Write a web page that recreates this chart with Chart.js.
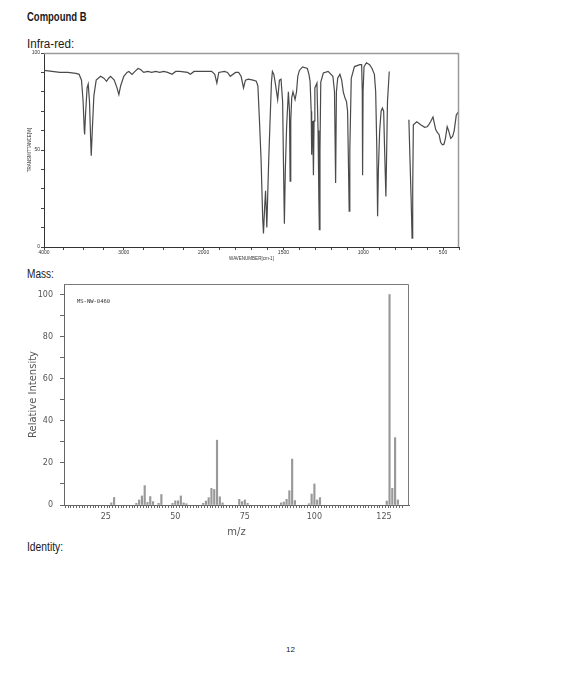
<!DOCTYPE html>
<html>
<head>
<meta charset="utf-8">
<script src="https://cdn.jsdelivr.net/npm/chart.js@4/dist/chart.umd.min.js"></script>
<style>
  html, body { margin:0; padding:0; background:#fff; }
  body { width:568px; height:700px; position:relative; overflow:hidden; }
  .t { position:absolute; color:#1a1a1a; font-family:"Liberation Sans",Arial,sans-serif; font-size:12px; line-height:1; white-space:nowrap; transform-origin:0 0; }
  .box { position:absolute; }
  #msid { position:absolute; left:77px; top:299px; font-family:"DejaVu Sans Mono",monospace; font-size:5.5px; color:#333; line-height:1; }
</style>
</head>
<body>
<div class="t" style="left:27px;top:11px;font-weight:bold;transform:scaleX(0.79);">Compound B</div>
<div class="t" style="left:27px;top:38px;transform:scaleX(0.97);">Infra-red:</div>
<div class="t" style="left:27px;top:268px;transform:scaleX(0.84);">Mass:</div>
<div class="t" style="left:27px;top:541px;transform:scaleX(0.86);">Identity:</div>
<div class="t" style="left:286px;top:646px;font-size:8px;color:#222;">12</div>

<div class="box" style="left:20px;top:40px;width:450px;height:230px;"><canvas id="ir"></canvas></div>
<div class="box" style="left:20px;top:270px;width:400px;height:275px;"><canvas id="ms"></canvas></div>
<div id="msid">MS-NW-0460</div>

<script>
// ---------- IR spectrum data (wavenumber cm-1, %T) ----------
const irWavenumber = [4000,3900,3800,3700,3600,3560,3530,3510,3495,3491,3480,3460,3446,3430,3415,3408,3395,3375,3346,3291,3250,3216,3190,3166,3120,3085,3062,3040,3000,2960,2937,2896,2860,2821,2790,2750,2700,2650,2600,2550,2500,2450,2396,2350,2300,2200,2166,2120,2050,2000,1950,1930,1917,1905,1870,1850,1833,1800,1781,1765,1750,1738,1720,1690,1670,1660,1650,1640,1630,1625,1618,1612,1608,1604,1598,1592,1585,1575,1569,1560,1550,1536,1525,1515,1505,1500,1494,1488,1480,1469,1462,1458,1454,1448,1440,1427,1418,1410,1400,1380,1350,1340,1333,1326,1323,1319,1315,1312,1308,1303,1290,1283,1278,1275,1271,1266,1250,1220,1190,1180,1173,1168,1160,1146,1135,1125,1115,1105,1098,1092,1088,1084,1075,1055,1021,1010,1006,1004,1001,995,980,960,945,930,922,915,910,905,897,888,880,872,866,858,854,848,837,836,714,707,700,694,690,686,665,640,615,600,590,579,563,555,546,535,525,515,504,494,485,474,465,452,440,430,417,400];
const irTransmittance = [91,90.5,90,90,89.5,89,86,75,60,58,68,82,84,75,55,47,60,78,86,88,87,85.4,87,88,86,82,78.5,83,88,90,90.5,89,90.5,92,91.5,90,90.5,90,90.5,90,90.5,90,89,90.5,90.5,90,89,90.5,90.5,90.5,90.5,89,84.5,90,90.5,90,88,90,90,88,82,86,86.5,86,85.5,83,65,45,15,7,20,29,20,10,28,45,62,85,90.5,89,84,76,86,86.5,75,45,12,40,62,80,70,34,65,77,80,76,80,88,91,92.8,92,89,85.4,70,47.6,65,55,37,65,82,84.5,60,25,9,50,85,89.7,90.5,88,80,33,80,87,89,86,80,77,75,70,40,18.5,50,87,93,94,94,80,37,80,93,95,94,92,89,80,51,15.8,40,60,70,71.6,70,50,26,45,75,90.5,null,65.6,45,25,4.6,30,63,64.5,63,61.7,62,63,64.4,67,64,60.5,59,58,54,52.7,53,56,62,60,56,57,60,68,70];
const irXTicks = [4000,3750,3500,3250,3000,2750,2500,2250,2000,1900,1800,1700,1600,1500,1400,1300,1200,1100,1000,900,800,700,600,500,400];
const irXLabels = [4000,3000,2000,1500,1000,500];
const irYTicks = [0,10,20,30,40,50,60,70,80,90,100];
const irYLabels = [0,50,100];

// ---------- Mass spectrum data ----------
const msMz = [27,28,36,37,38,39,40,41,42,44,45,49,50,51,52,53,54,60,61,62,63,64,65,66,67,73,74,75,76,88,89,90,91,92,93,98,99,100,101,102,126,127,128,129,130];
const msIntensity = [1,3.6,0.8,2.4,4.3,9.2,1.2,4,1.6,0.8,5,0.8,2,2,4.3,1,0.6,0.8,1.9,3.5,7.9,7.4,30.8,3.9,1,2.7,1.6,2.4,0.8,1,1.4,2.7,6.8,21.8,2.1,0.6,5.2,10,2.4,3.5,1.9,100,7.9,32,2.4];
const msXLabels = [25,50,75,100,125];
const msYTicks = [0,10,20,30,40,50,60,70,80,90,100];
const msYLabels = [0,20,40,60,80,100];

// ---------- custom IR axis: 4000-2000 at half the scale of 2000-400 ----------
class IRScale extends Chart.LinearScale {
  toU(v){ return v >= 2000 ? (4000 - v) / 1000 : 2 + (2000 - v) / 500; }
  fromU(u){ return u <= 2 ? 4000 - u * 1000 : 2000 - (u - 2) * 500; }
  getPixelForValue(v){
    if (v === null || v === undefined || isNaN(v)) return NaN;
    const u0 = this.toU(this.max), u1 = this.toU(this.min);
    return this.left + (this.toU(v) - u0) / (u1 - u0) * this.width;
  }
  getValueForPixel(p){
    const u0 = this.toU(this.max), u1 = this.toU(this.min);
    return this.fromU(u0 + (p - this.left) / this.width * (u1 - u0));
  }
}
IRScale.id = 'irscale';
IRScale.defaults = Chart.LinearScale.defaults;
Chart.register(IRScale);

const framePlugin = {
  id: 'frame',
  afterDraw(chart, args, opts) {
    const a = chart.chartArea, c = chart.ctx;
    c.save();
    c.strokeStyle = opts.color; c.lineWidth = opts.width;
    c.beginPath();
    c.moveTo(a.left, a.top + 0.5); c.lineTo(a.right - 0.5, a.top + 0.5); c.lineTo(a.right - 0.5, a.bottom);
    c.stroke();
    c.restore();
  }
};

// ---------- IR chart ----------
new Chart(document.getElementById('ir'), {
  type: 'line',
  data: { datasets: [{
    data: irWavenumber.map((w, i) => ({ x: w, y: irTransmittance[i] })),
    borderColor: '#4a4a4a', borderWidth: 1.2, pointRadius: 0, tension: 0, spanGaps: false, fill: false
  }]},
  options: {
    responsive: true, maintainAspectRatio: false, animation: false,
    layout: { padding: { left: 0, right: 11, top: 13, bottom: 0 } },
    plugins: { legend: { display: false }, tooltip: { enabled: false },
      frame: { color: '#9a9a9a', width: 1.5 } },
    scales: {
      x: {
        type: 'irscale', min: 400, max: 4000,
        afterFit: s => { s.height = 23; },
        afterBuildTicks: s => { s.ticks = irXTicks.map(v => ({ value: v })); },
        ticks: { autoSkip: false, maxRotation: 0, padding: 0, color: '#333',
          font: { size: 5, family: 'Liberation Sans' },
          callback: v => irXLabels.includes(v) ? String(v) : '' },
        grid: { drawOnChartArea: false, drawTicks: true, tickLength: 3, color: '#444' },
        border: { display: true, color: '#333', width: 1 },
        title: { display: true, text: 'WAVENUMBER[cm-1]', color: '#333',
          font: { size: 4.5, family: 'Liberation Sans' }, padding: { top: 0, bottom: 9 } }
      },
      y: {
        min: 0, max: 100,
        afterFit: s => { s.width = 24; },
        afterBuildTicks: s => { s.ticks = irYTicks.map(v => ({ value: v })); },
        ticks: { autoSkip: false, padding: 1, color: '#333',
          font: { size: 5, family: 'Liberation Sans' },
          callback: v => irYLabels.includes(v) ? String(v) : '' },
        grid: { drawOnChartArea: false, drawTicks: true, tickLength: 3, color: '#444' },
        border: { display: true, color: '#333', width: 1 },
        title: { display: true, text: 'TRANSMITTANCE[%]', color: '#333',
          font: { size: 4.5, family: 'Liberation Sans' }, padding: { top: 7, bottom: 0 } }
      }
    }
  },
  plugins: [framePlugin]
});

// ---------- Mass chart ----------
const msXTicks = [];
for (let m = 10; m <= 131; m++) msXTicks.push(m);

new Chart(document.getElementById('ms'), {
  type: 'bar',
  data: { datasets: [{
    data: msMz.map((m, i) => ({ x: m, y: msIntensity[i] })),
    backgroundColor: '#999999', borderWidth: 0, barThickness: 1.5
  }]},
  options: {
    responsive: true, maintainAspectRatio: false, animation: false,
    layout: { padding: { left: 0, right: 11, top: 14, bottom: 0 } },
    plugins: { legend: { display: false }, tooltip: { enabled: false },
      frame: { color: '#7a7a7a', width: 1 } },
    scales: {
      x: {
        type: 'linear', min: 10, max: 134, offset: false,
        afterFit: s => { s.height = 40; },
        afterBuildTicks: s => { s.ticks = msXTicks.map(v => ({ value: v })); },
        ticks: { autoSkip: false, maxRotation: 0, padding: 4, color: '#555',
          font: { size: 8, family: 'DejaVu Sans' },
          callback: v => msXLabels.includes(v) ? String(v) : '' },
        grid: { drawOnChartArea: false, drawTicks: true, tickLength: 3, color: '#666' },
        border: { display: true, color: '#666', width: 1 },
        title: { display: true, text: 'm/z', color: '#555',
          font: { size: 10, family: 'DejaVu Sans' }, padding: { top: 0, bottom: 7 } }
      },
      y: {
        min: 0, max: 105,
        afterFit: s => { s.width = 44; },
        afterBuildTicks: s => { s.ticks = msYTicks.map(v => ({ value: v })); },
        ticks: { autoSkip: false, padding: 7, color: '#555',
          font: { size: 8, family: 'DejaVu Sans' },
          callback: v => msYLabels.includes(v) ? String(v) : '' },
        grid: { drawOnChartArea: false, drawTicks: true, tickLength: 4, color: '#666' },
        border: { display: true, color: '#666', width: 1 },
        title: { display: true, text: 'Relative Intensity', color: '#555',
          font: { size: 10, family: 'DejaVu Sans' }, padding: { top: 7, bottom: 0 } }
      }
    }
  },
  plugins: [framePlugin]
});
</script>
</body>
</html>
